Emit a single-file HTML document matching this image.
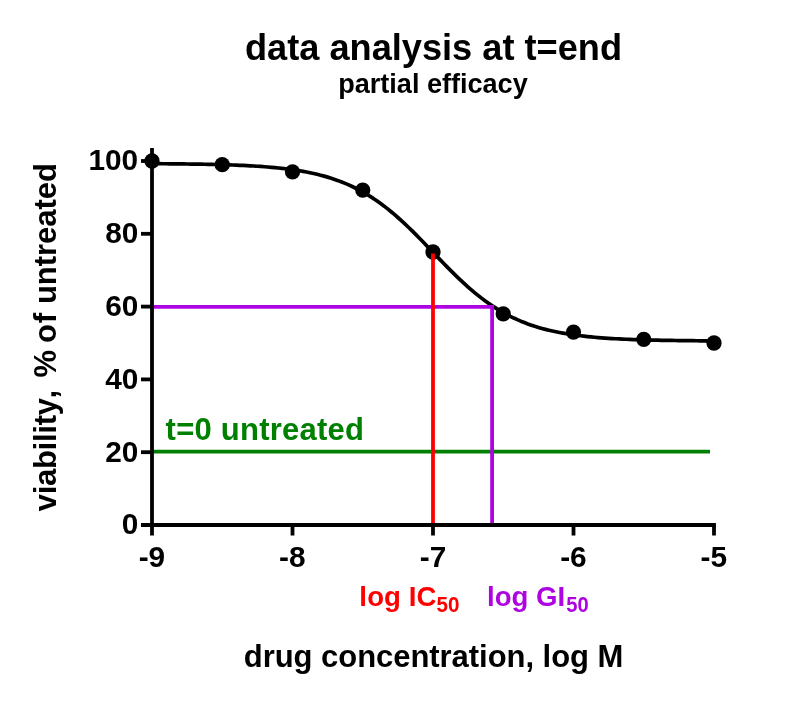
<!DOCTYPE html>
<html lang="en"><head><meta charset="utf-8"><title>data analysis at t=end</title>
<style>html,body{margin:0;padding:0;background:#fff}svg{display:block}text{font-family:"Liberation Sans",Arial,Helvetica,sans-serif;font-weight:bold;white-space:pre}</style>
</head><body>
<svg width="800" height="701" viewBox="0 0 800 701" role="img" aria-label="data analysis at t=end">
<rect width="800" height="701" fill="#fff"/>
<text x="244.97" y="59.60" font-size="36.2" fill="#000" xml:space="preserve" textLength="377.02" lengthAdjust="spacing">data analysis at t=end</text>
<text x="338.19" y="92.50" font-size="27.1" fill="#000" xml:space="preserve" textLength="189.55" lengthAdjust="spacing">partial efficacy</text>
<line x1="152" y1="451.7" x2="710" y2="451.7" stroke="#008000" stroke-width="3.8"/>
<text x="165.61" y="439.90" font-size="31" fill="#008000" xml:space="preserve" textLength="198.35" lengthAdjust="spacing">t=0 untreated</text>
<path d="M152.00,163.68 L155.51,163.70 L159.03,163.72 L162.54,163.74 L166.05,163.77 L169.56,163.80 L173.08,163.83 L176.59,163.86 L180.10,163.90 L183.61,163.94 L187.12,163.98 L190.64,164.03 L194.15,164.08 L197.66,164.13 L201.17,164.19 L204.69,164.26 L208.20,164.33 L211.71,164.40 L215.22,164.49 L218.74,164.58 L222.25,164.67 L225.76,164.78 L229.28,164.89 L232.79,165.02 L236.30,165.15 L239.81,165.30 L243.33,165.46 L246.84,165.63 L250.35,165.82 L253.86,166.02 L257.38,166.24 L260.89,166.47 L264.40,166.73 L267.91,167.01 L271.42,167.31 L274.94,167.63 L278.45,167.99 L281.96,168.37 L285.47,168.78 L288.99,169.23 L292.50,169.71 L296.01,170.23 L299.52,170.79 L303.04,171.39 L306.55,172.05 L310.06,172.75 L313.58,173.51 L317.09,174.32 L320.60,175.20 L324.11,176.14 L327.62,177.15 L331.14,178.24 L334.65,179.40 L338.16,180.64 L341.67,181.97 L345.19,183.39 L348.70,184.90 L352.21,186.51 L355.73,188.22 L359.24,190.04 L362.75,191.96 L366.26,194.00 L369.77,196.15 L373.29,198.42 L376.80,200.80 L380.31,203.30 L383.83,205.91 L387.34,208.64 L390.85,211.49 L394.36,214.44 L397.88,217.50 L401.39,220.66 L404.90,223.91 L408.41,227.25 L411.92,230.67 L415.44,234.16 L418.95,237.71 L422.46,241.31 L425.98,244.94 L429.49,248.60 L433.00,252.28 L436.51,255.95 L440.03,259.61 L443.54,263.24 L447.05,266.84 L450.56,270.39 L454.08,273.88 L457.59,277.30 L461.10,280.64 L464.61,283.89 L468.12,287.05 L471.64,290.11 L475.15,293.07 L478.66,295.91 L482.17,298.64 L485.69,301.26 L489.20,303.75 L492.71,306.14 L496.23,308.40 L499.74,310.55 L503.25,312.59 L506.76,314.51 L510.28,316.33 L513.79,318.04 L517.30,319.65 L520.81,321.16 L524.33,322.58 L527.84,323.91 L531.35,325.15 L534.86,326.32 L538.38,327.40 L541.89,328.41 L545.40,329.35 L548.91,330.23 L552.42,331.04 L555.94,331.80 L559.45,332.50 L562.96,333.16 L566.48,333.76 L569.99,334.32 L573.50,334.84 L577.01,335.32 L580.53,335.77 L584.04,336.18 L587.55,336.56 L591.06,336.92 L594.58,337.24 L598.09,337.54 L601.60,337.82 L605.11,338.08 L608.62,338.32 L612.14,338.53 L615.65,338.74 L619.16,338.92 L622.67,339.09 L626.19,339.25 L629.70,339.40 L633.21,339.53 L636.73,339.66 L640.24,339.77 L643.75,339.88 L647.26,339.98 L650.78,340.07 L654.29,340.15 L657.80,340.22 L661.31,340.29 L664.83,340.36 L668.34,340.42 L671.85,340.47 L675.36,340.52 L678.88,340.57 L682.39,340.61 L685.90,340.65 L689.41,340.69 L692.92,340.72 L696.44,340.75 L699.95,340.78 L703.46,340.81 L706.98,340.83 L710.49,340.85 L714.00,340.88" fill="none" stroke="#000" stroke-width="3.7" stroke-linejoin="round"/>
<circle cx="152.00" cy="161.00" r="7.65" fill="#000"/>
<circle cx="222.25" cy="164.64" r="7.65" fill="#000"/>
<circle cx="292.50" cy="171.92" r="7.65" fill="#000"/>
<circle cx="362.75" cy="190.12" r="7.65" fill="#000"/>
<circle cx="433.00" cy="252.00" r="7.65" fill="#000"/>
<circle cx="503.25" cy="313.88" r="7.65" fill="#000"/>
<circle cx="573.50" cy="332.08" r="7.65" fill="#000"/>
<circle cx="643.75" cy="339.36" r="7.65" fill="#000"/>
<circle cx="714.00" cy="343.00" r="7.65" fill="#000"/>
<path d="M152,306.8 H492.1 V525" fill="none" stroke="#ae04e2" stroke-width="3.8" stroke-linejoin="miter"/>
<line x1="433" y1="253.5" x2="433" y2="525" stroke="#ff0000" stroke-width="3.8"/>
<line x1="152" y1="148" x2="152" y2="535.5" stroke="#000" stroke-width="3.8"/>
<line x1="141" y1="525" x2="715.9" y2="525" stroke="#000" stroke-width="3.8"/>
<line x1="141" y1="452.20" x2="152" y2="452.20" stroke="#000" stroke-width="3.8"/>
<line x1="141" y1="379.40" x2="152" y2="379.40" stroke="#000" stroke-width="3.8"/>
<line x1="141" y1="306.60" x2="152" y2="306.60" stroke="#000" stroke-width="3.8"/>
<line x1="141" y1="233.80" x2="152" y2="233.80" stroke="#000" stroke-width="3.8"/>
<line x1="141" y1="161.00" x2="152" y2="161.00" stroke="#000" stroke-width="3.8"/>
<line x1="292.50" y1="525" x2="292.50" y2="535.5" stroke="#000" stroke-width="3.8"/>
<line x1="433.00" y1="525" x2="433.00" y2="535.5" stroke="#000" stroke-width="3.8"/>
<line x1="573.50" y1="525" x2="573.50" y2="535.5" stroke="#000" stroke-width="3.8"/>
<line x1="714.00" y1="525" x2="714.00" y2="535.5" stroke="#000" stroke-width="3.8"/>
<text x="243.79" y="666.90" font-size="31" fill="#000" xml:space="preserve" textLength="379.53" lengthAdjust="spacing">drug concentration, log M</text>
<text fill="#ff0000" xml:space="preserve"><tspan x="359.37" y="605.75" font-size="27.6" textLength="77.13" lengthAdjust="spacing">log IC</tspan><tspan x="436.41" y="612.00" font-size="22.7" textLength="22.99" lengthAdjust="spacingAndGlyphs">50</tspan></text>
<text fill="#ae04e2" xml:space="preserve"><tspan x="487.07" y="605.75" font-size="27.6" textLength="78.10" lengthAdjust="spacing">log GI</tspan><tspan x="566.22" y="612.00" font-size="22.7" textLength="22.47" lengthAdjust="spacingAndGlyphs">50</tspan></text>
<text transform="translate(56.2,511) rotate(-90)" fill="#000" xml:space="preserve"><tspan x="-0.32" y="0" font-size="31" textLength="113.29" lengthAdjust="spacing">viability</tspan><tspan x="112.51" y="0" font-size="31">,</tspan> <tspan x="133.60" y="0" font-size="31">%</tspan> <tspan x="168.03" y="0" font-size="31" textLength="30.16" lengthAdjust="spacing">of</tspan> <tspan x="206.98" y="0" font-size="31" textLength="141.04" lengthAdjust="spacing">untreated</tspan></text>
<text x="121.71" y="534.30" font-size="29.8" fill="#000" xml:space="preserve">0</text>
<text x="105.22" y="461.50" font-size="29.8" fill="#000" xml:space="preserve">20</text>
<text x="105.22" y="388.70" font-size="29.8" fill="#000" xml:space="preserve">40</text>
<text x="105.22" y="315.90" font-size="29.8" fill="#000" xml:space="preserve">60</text>
<text x="105.22" y="243.10" font-size="29.8" fill="#000" xml:space="preserve">80</text>
<text x="88.46" y="170.30" font-size="29.8" fill="#000" xml:space="preserve">100</text>
<text x="138.69" y="566.90" font-size="29.8" fill="#000" xml:space="preserve">-9</text>
<text x="279.12" y="566.90" font-size="29.8" fill="#000" xml:space="preserve">-8</text>
<text x="419.78" y="566.90" font-size="29.8" fill="#000" xml:space="preserve">-7</text>
<text x="560.19" y="566.90" font-size="29.8" fill="#000" xml:space="preserve">-6</text>
<text x="700.57" y="566.90" font-size="29.8" fill="#000" xml:space="preserve">-5</text>
</svg>
</body></html>
